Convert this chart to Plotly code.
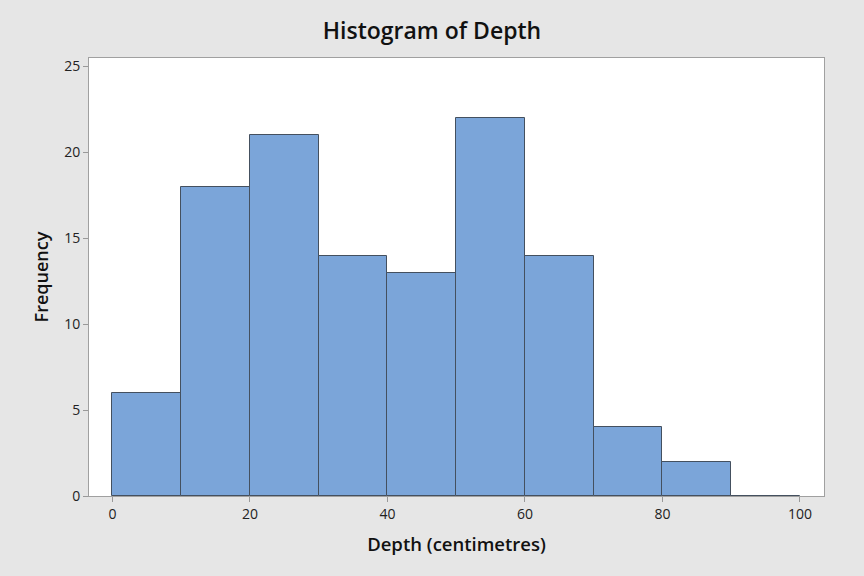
import plotly.graph_objects as go

# histogram bins (centimetres) and counts
bin_starts = [0, 10, 20, 30, 40, 50, 60, 70, 80, 90]
counts = [6, 18, 21, 14, 13, 22, 14, 4, 2, 0]
bin_width = 10

x_ticks = [0, 20, 40, 60, 80, 100]
y_ticks = [0, 5, 10, 15, 20, 25]

fig = go.Figure()
fig.add_trace(go.Bar(
    x=[b + bin_width / 2 for b in bin_starts],
    y=counts,
    width=bin_width,
    marker=dict(color="#7BA5D9", line=dict(color="#44505F", width=1)),
    hoverinfo="x+y",
))

font_family = "Open Sans, Noto Sans, sans-serif"

fig.update_layout(
    width=864, height=576,
    paper_bgcolor="#e6e6e6",
    plot_bgcolor="white",
    margin=dict(l=89, r=40, t=58, b=80),
    showlegend=False,
    bargap=0,
    title=dict(text="Histogram of Depth", x=0.5, xanchor="center", y=0.947, yanchor="middle",
               font=dict(family=font_family, size=23, color="#111", weight=600)),
    font=dict(family=font_family, size=14, color="#222"),
)
fig.update_xaxes(
    range=[-3.4, 103.5], tickvals=x_ticks, ticks="outside", ticklen=5, tickcolor="#999",
    showgrid=False, zeroline=False, showline=True, linecolor="#a0a0a0", mirror=True,
    title=dict(text="Depth (centimetres)", font=dict(size=18.5, color="#111", weight=600), standoff=16),
)
fig.update_yaxes(
    range=[0, 25.5], tickvals=y_ticks, ticks="outside", ticklen=5, tickcolor="#999",
    showgrid=False, zeroline=False, showline=True, linecolor="#a0a0a0", mirror=True,
    title=dict(text="Frequency", font=dict(size=18, color="#111", weight=600), standoff=10),
)

fig.write_html("out.html", config={"displayModeBar": False},
               post_script="document.body.style.margin='0';")
